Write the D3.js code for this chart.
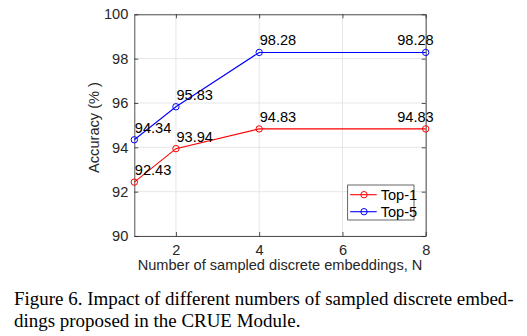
<!DOCTYPE html>
<html>
<head>
<meta charset="utf-8">
<script src="https://cdn.jsdelivr.net/npm/d3@7"></script>
<style>
  html, body { margin: 0; padding: 0; background: #fff; }
  svg { display: block; }
</style>
</head>
<body>
<svg id="chart" width="527" height="336"></svg>
<script>
// Sampled embedding counts and accuracy per setting
const samples = [1, 2, 4, 8];
const top1 = [92.43, 93.94, 94.83, 94.83];
const top5 = [94.34, 95.83, 98.28, 98.28];
const seriesNames = ["Top-1", "Top-5"];
const xTicks = [2, 4, 6, 8];
const yTicks = [90, 92, 94, 96, 98, 100];
const xLabel = "Number of sampled discrete embeddings, N";
const yLabel = "Accuracy (% )";
const captionLines = [
  "Figure 6. Impact of different numbers of sampled discrete embed-",
  "dings proposed in the CRUE Module."
];

const svg = d3.select("#chart");
const plot = { left: 134.3, right: 425.7, top: 14.3, bottom: 236 };
const sans = "'Liberation Sans', Arial, Helvetica, sans-serif";
const fs = "14.6px";
const axisColor = "#262626";

const x = d3.scaleLinear().domain([1, 8]).range([plot.left, plot.right]);
const y = d3.scaleLinear().domain([90, 100]).range([plot.bottom, plot.top]);

// grid
const grid = svg.append("g").attr("stroke", "#e6e6e6").attr("stroke-width", 1);
grid.selectAll(".gx").data(xTicks).join("line")
  .attr("x1", d => x(d)).attr("x2", d => x(d))
  .attr("y1", plot.top).attr("y2", plot.bottom);
grid.selectAll(".gy").data(yTicks).join("line")
  .attr("x1", plot.left).attr("x2", plot.right)
  .attr("y1", d => y(d)).attr("y2", d => y(d));

// axes (ticks point inward)
const xAxis = d3.axisBottom(x).tickValues(xTicks).tickFormat(d3.format("d"))
  .tickSize(-4).tickPadding(8.5).tickSizeOuter(0);
const yAxis = d3.axisLeft(y).tickValues(yTicks).tickFormat(d3.format("d"))
  .tickSize(-4).tickPadding(6).tickSizeOuter(0);
const xTop = d3.axisTop(x).tickValues(xTicks).tickSize(-4).tickFormat("").tickSizeOuter(0);
const yRight = d3.axisRight(y).tickValues(yTicks).tickSize(-4).tickFormat("").tickSizeOuter(0);

function styleAxis(g) {
  g.selectAll("path").attr("stroke", axisColor).attr("stroke-width", 0.8);
  g.selectAll("line").attr("stroke", axisColor).attr("stroke-width", 0.8);
  g.selectAll("text").attr("fill", axisColor).style("font-family", sans).style("font-size", fs);
}
svg.append("g").attr("transform", `translate(0,${plot.bottom})`).call(xAxis).call(styleAxis);
svg.append("g").attr("transform", `translate(${plot.left},0)`).call(yAxis).call(styleAxis);
svg.append("g").attr("transform", `translate(0,${plot.top})`).call(xTop).call(styleAxis);
svg.append("g").attr("transform", `translate(${plot.right},0)`).call(yRight).call(styleAxis);

// axis labels
svg.append("text")
  .attr("x", (plot.left + plot.right) / 2).attr("y", 270)
  .attr("text-anchor", "middle").attr("fill", axisColor)
  .style("font-family", sans).style("font-size", fs)
  .text(xLabel);
svg.append("text")
  .attr("transform", `translate(98.5,127.5) rotate(-90)`)
  .attr("text-anchor", "middle").attr("fill", axisColor)
  .style("font-family", sans).style("font-size", fs)
  .text(yLabel);

// series
const series = [
  { name: seriesNames[0], values: top1, color: "#ff0000" },
  { name: seriesNames[1], values: top5, color: "#0000ff" }
];
const line = d3.line().x((d, i) => x(samples[i])).y(d => y(d));

series.forEach(s => {
  svg.append("path").datum(s.values)
    .attr("d", line).attr("fill", "none")
    .attr("stroke", s.color).attr("stroke-width", 1.1);
  svg.append("g").selectAll("circle").data(s.values).join("circle")
    .attr("cx", (d, i) => x(samples[i])).attr("cy", d => y(d))
    .attr("r", 3.2).attr("fill", "none")
    .attr("stroke", s.color).attr("stroke-width", 1);
  const last = samples.length - 1;
  svg.append("g").selectAll("text").data(s.values).join("text")
    .attr("x", (d, i) => i === last ? x(samples[i]) + 8 : x(samples[i]) + 0.5)
    .attr("y", d => y(d) - 7)
    .attr("text-anchor", (d, i) => i === last ? "end" : "start")
    .attr("fill", "#000")
    .style("font-family", sans).style("font-size", fs)
    .text(d => d.toFixed(2));
});

// legend
const lg = svg.append("g").attr("transform", "translate(347.7,185)");
lg.append("rect").attr("width", 66.3).attr("height", 35)
  .attr("fill", "#fff").attr("stroke", "#262626").attr("stroke-width", 0.7);
series.forEach((s, i) => {
  const cy = 9.7 + i * 17;
  lg.append("line").attr("x1", 2.5).attr("x2", 29).attr("y1", cy).attr("y2", cy)
    .attr("stroke", s.color).attr("stroke-width", 1.1);
  lg.append("circle").attr("cx", 16.3).attr("cy", cy).attr("r", 3.2)
    .attr("fill", "none").attr("stroke", s.color).attr("stroke-width", 1);
  lg.append("text").attr("x", 33).attr("y", cy).attr("dy", "0.35em")
    .attr("fill", "#000").style("font-family", sans).style("font-size", fs)
    .text(s.name);
});

// caption, sized so the first line spans the text column
const serif = "'Liberation Serif', 'Times New Roman', serif";
const cap1 = svg.append("text").attr("x", 14).attr("y", 305)
  .style("font-family", serif).style("font-size", "18px").attr("fill", "#000")
  .text(captionLines[0]);
const w = cap1.node().getComputedTextLength();
const capSize = 18 * 500 / w;
cap1.style("font-size", capSize + "px");
svg.append("text").attr("x", 14).attr("y", 327)
  .style("font-family", serif).style("font-size", capSize + "px").attr("fill", "#000")
  .text(captionLines[1]);
</script>
</body>
</html>
